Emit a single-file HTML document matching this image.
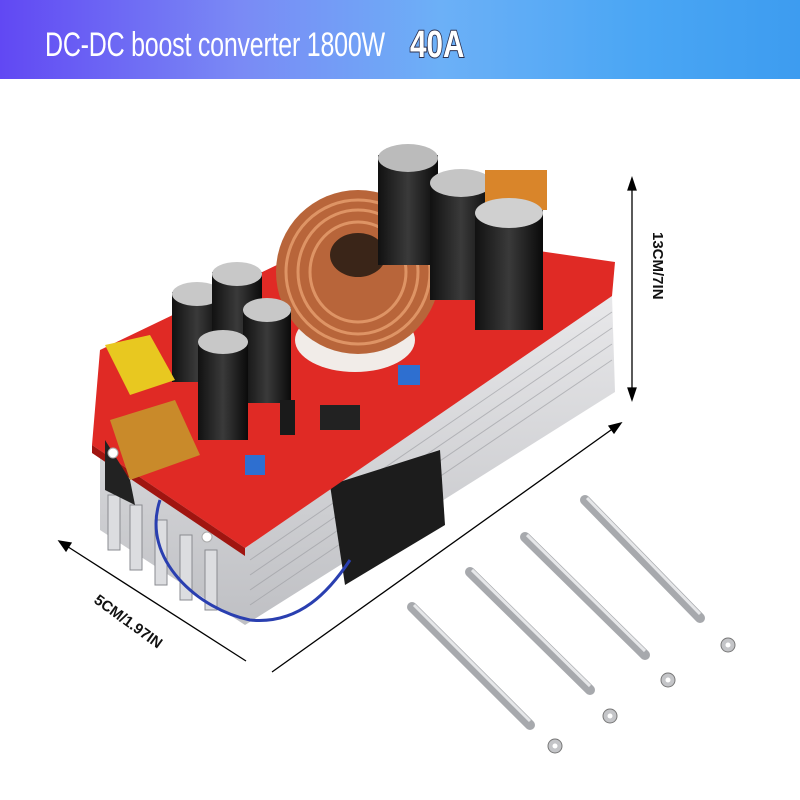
<!DOCTYPE html>
<html><head><meta charset="utf-8"><style>
html,body{margin:0;padding:0;background:#fff;}
#w{position:relative;width:800px;height:800px;overflow:hidden;background:#fff;font-family:"Liberation Sans",sans-serif;}
#hdr{position:absolute;left:0;top:0;width:800px;height:79px;background:linear-gradient(90deg,#6148f3 0%,#7a8af5 30%,#6cb0f7 55%,#4aa6f4 80%,#3d9cf0 100%);}
#t1{position:absolute;left:45px;top:26px;font-size:34px;color:#fff;letter-spacing:-0.3px;transform:scaleX(0.735);transform-origin:left;white-space:nowrap;}
#t2{position:absolute;left:410px;top:24px;font-size:38px;font-weight:bold;color:#fff;-webkit-text-stroke:2px #2a3050;paint-order:stroke fill;white-space:nowrap;transform:scaleX(0.78);transform-origin:left;}
</style></head><body><div id="w">
<div id="hdr"><div id="t1">DC-DC boost converter 1800W</div><div id="t2">40A</div></div>
<svg width="800" height="800" style="position:absolute;left:0;top:0">
<defs>
<linearGradient id="al" x1="0" y1="0" x2="0" y2="1"><stop offset="0" stop-color="#e8e8ea"/><stop offset="1" stop-color="#bfc0c4"/></linearGradient>
<linearGradient id="cap" x1="0" y1="0" x2="1" y2="0"><stop offset="0" stop-color="#111"/><stop offset="0.5" stop-color="#3a3a3a"/><stop offset="1" stop-color="#0a0a0a"/></linearGradient>
</defs>
<polygon points="100,450 245,548 612,295 615,392 245,625 100,530" fill="url(#al)"/>
<g stroke="#9a9ba0" stroke-width="1" opacity="0.6">
<line x1="250" y1="560" x2="612" y2="312"/><line x1="250" y1="575" x2="612" y2="328"/><line x1="250" y1="590" x2="612" y2="344"/><line x1="250" y1="605" x2="612" y2="360"/>
</g>
<g fill="#dcdde0" stroke="#8a8b90">
<rect x="108" y="495" width="12" height="55"/><rect x="130" y="505" width="12" height="65"/><rect x="155" y="520" width="12" height="65"/><rect x="180" y="535" width="12" height="65"/><rect x="205" y="550" width="12" height="60"/>
</g>
<polygon points="330,485 440,450 445,525 345,585" fill="#1c1c1c"/>
<path d="M160,500 C140,560 200,610 250,620 C300,625 330,590 350,560" stroke="#2a3fb0" stroke-width="3" fill="none"/>
<polygon points="100,350 360,225 615,262 612,296 245,548 92,445" fill="#e02a25"/>
<polygon points="92,445 245,548 245,556 92,453" fill="#a01510"/>
<ellipse cx="355" cy="340" rx="60" ry="32" fill="#f1ece8"/>
<ellipse cx="358" cy="272" rx="82" ry="82" fill="#b8653a"/>
<g stroke="#e8a070" stroke-width="3" fill="none" opacity="0.8">
<ellipse cx="358" cy="272" rx="72" ry="72"/><ellipse cx="358" cy="272" rx="60" ry="62"/><ellipse cx="358" cy="272" rx="48" ry="50"/>
</g>
<ellipse cx="358" cy="255" rx="28" ry="22" fill="#3a2518"/>
<rect x="378" y="155" width="60" height="110" fill="url(#cap)"/><ellipse cx="408" cy="158" rx="30" ry="14" fill="#bbb"/>
<rect x="430" y="180" width="62" height="120" fill="url(#cap)"/><ellipse cx="461" cy="183" rx="31" ry="14" fill="#c5c5c5"/>
<rect x="485" y="170" width="62" height="40" fill="#d9852a"/>
<rect x="475" y="210" width="68" height="120" fill="url(#cap)"/><ellipse cx="509" cy="213" rx="34" ry="15" fill="#d0d0d0"/>
<rect x="172" y="292" width="50" height="90" fill="url(#cap)"/><ellipse cx="197" cy="294" rx="25" ry="12" fill="#c8c8c8"/>
<rect x="212" y="272" width="50" height="80" fill="url(#cap)"/><ellipse cx="237" cy="274" rx="25" ry="12" fill="#c8c8c8"/>
<rect x="243" y="308" width="48" height="95" fill="url(#cap)"/><ellipse cx="267" cy="310" rx="24" ry="12" fill="#c8c8c8"/>
<rect x="198" y="340" width="50" height="100" fill="url(#cap)"/><ellipse cx="223" cy="342" rx="25" ry="12" fill="#c8c8c8"/>
<polygon points="105,345 150,335 175,380 130,395" fill="#e8c820"/>
<polygon points="110,420 175,400 200,455 130,480" fill="#c98a2a"/>
<polygon points="105,440 130,480 135,505 105,490" fill="#222"/>
<rect x="320" y="405" width="40" height="25" fill="#222"/>
<rect x="245" y="455" width="20" height="20" fill="#2e6fd0"/><rect x="398" y="365" width="22" height="20" fill="#2e6fd0"/>
<rect x="280" y="400" width="15" height="35" fill="#1a1a1a"/>
<circle cx="207" cy="537" r="5" fill="#fff" stroke="#aaa"/><circle cx="113" cy="453" r="5" fill="#fff" stroke="#aaa"/>
<g stroke-linecap="round">
<line x1="412" y1="607" x2="530" y2="725" stroke="#a7a9ad" stroke-width="10"/>
<line x1="470" y1="572" x2="590" y2="690" stroke="#a7a9ad" stroke-width="10"/>
<line x1="525" y1="537" x2="645" y2="655" stroke="#a7a9ad" stroke-width="10"/>
<line x1="585" y1="500" x2="700" y2="618" stroke="#a7a9ad" stroke-width="10"/>
</g>
<g stroke="#e6e7e9" stroke-width="3">
<line x1="414" y1="605" x2="530" y2="721"/><line x1="472" y1="570" x2="590" y2="686"/><line x1="527" y1="535" x2="645" y2="651"/><line x1="587" y1="498" x2="700" y2="614"/>
</g>
<g fill="#c4c5c8" stroke="#777">
<circle cx="555" cy="746" r="7"/><circle cx="610" cy="716" r="7"/><circle cx="668" cy="680" r="7"/><circle cx="728" cy="645" r="7"/>
</g>
<g fill="#fff"><circle cx="555" cy="746" r="2.5"/><circle cx="610" cy="716" r="2.5"/><circle cx="668" cy="680" r="2.5"/><circle cx="728" cy="645" r="2.5"/></g>
<g stroke="#000" stroke-width="1.3" fill="#000">
<line x1="632" y1="182" x2="632" y2="396"/>
<polygon points="632,178 628,190 636,190"/><polygon points="632,400 628,388 636,388"/>
<line x1="272" y1="672" x2="618" y2="425"/>
<polygon points="621,423 609,426 614,433"/>
<line x1="62" y1="543" x2="246" y2="661"/>
<polygon points="59,541 66,551 71,543"/>
</g>
<text x="0" y="0" transform="translate(653,232) rotate(90)" font-family="Liberation Sans,sans-serif" font-weight="bold" font-size="15" fill="#111">13CM/7IN</text>
<text x="0" y="0" transform="translate(93,602) rotate(36)" font-family="Liberation Sans,sans-serif" font-weight="bold" font-size="15" fill="#111">5CM/1.97IN</text>
</svg>
</div></body></html>
